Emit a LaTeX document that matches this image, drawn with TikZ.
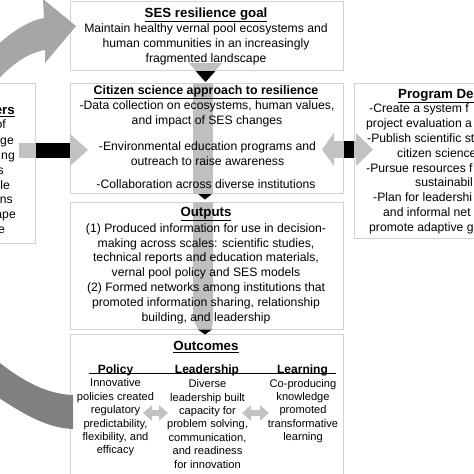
\documentclass[tikz,border=0pt]{standalone}
\usepackage{fontspec}
\setmainfont{Liberation Sans}
\usetikzlibrary{positioning}
\usetikzlibrary{arrows.meta}
\usetikzlibrary{calc}
\definecolor{pBorder}{HTML}{D2D2D2}
\definecolor{pBand}{HTML}{BFBFBF}
\definecolor{pArc}{HTML}{A6A6A6}
\definecolor{pTail}{HTML}{818181}
\definecolor{pHead}{HTML}{C2C2C2}

\tikzset{
  boxfr/.style={draw=pBorder, fill=white, line width=1pt, inner sep=0pt, anchor=north west},
  bodytxt/.style={font=\fontsize{12.2}{14.8}\selectfont, align=center, inner sep=0pt},
  titletxt/.style={font=\fontsize{13.3}{15}\selectfont\bfseries, inner sep=0pt, text height=9.5pt, text depth=3pt},
  coltxt/.style={font=\fontsize{11.1}{13.4}\selectfont, align=center, inner sep=0pt},
  colhead/.style={font=\fontsize{12}{14}\selectfont\bfseries, inner sep=0pt, text height=8.6pt, text depth=2.5pt},
  fragtxt/.style={font=\fontsize{12.2}{14.8}\selectfont, inner sep=0pt, text height=9pt, text depth=2.6pt},
  dblarrow/.style={draw=pHead, line width=6pt, {Triangle[length=9pt,width=15pt]}-{Triangle[length=9pt,width=15pt]}},
}

\begin{document}
\begin{tikzpicture}[x=1pt, y=-1pt]
  \useasboundingbox (0,0) rectangle (474,474);
  \clip (0,0) rectangle (474,474);

  \node[boxfr, minimum width=273pt, minimum height=69pt]  (goal) at (70,1) {};
  \node[boxfr, minimum width=273pt, minimum height=110pt] (cit)  at (70,83) {};
  \node[boxfr, minimum width=273pt, minimum height=127pt] (outp) at (70,202) {};
  \node[boxfr, minimum width=273pt, minimum height=150pt] (outc) at (70,334) {};
  \node[boxfr, minimum width=45pt,  minimum height=160pt] (drv)  at (-10,83) {};
  \node[boxfr, minimum width=130pt, minimum height=155pt] (prog) at (354,83) {};

  \coordinate (band) at (203.5,0);
  \fill[pBand] ($(band |- goal.south)+(-14.5,-8)$) -- ($(band |- goal.south)+(18.5,-8)$) -- ($(band |- cit.north)+(2,-1)$) -- cycle;
  \fill[black] ($(band |- goal.south)+(-7.9,0)$) -- ($(band |- goal.south)+(11.9,0)$) -- ($(band |- cit.north)+(2,-1)$) -- cycle;
  \fill[pBand] ($(band |- cit.north)+(-10.5,0)$) rectangle ($(band |- cit.south)+(9.5,0)$);
  \fill[black] ($(band |- cit.south)+(-5.5,0)$) -- ($(band |- cit.south)+(8.5,0)$) -- ($(band |- outp.north)+(1.5,-2.5)$) -- cycle;
  \fill[pBand] ($(band |- outp.north)+(-10.5,0)$) -- ($(band |- outp.north)+(9.5,0)$) -- ($(band |- outp.south)+(9.5,-11)$) -- ($(band |- outp.south)+(8.5,-1)$) -- ($(band |- outp.south)+(-5.5,-1)$) -- ($(band |- outp.south)+(-10.5,-11)$) -- cycle;
  \fill[black] ($(band |- outp.south)+(-5.5,-0.5)$) -- ($(band |- outp.south)+(8.5,-0.5)$) -- ($(band |- outc.north)+(1.5,0.5)$) -- cycle;

  \node[titletxt] (goal-t) at (206,14) {\underline{SES resilience goal}};
  \node[bodytxt]  (goal-b) at (206,44.5) {Maintain healthy vernal pool ecosystems and\\human communities in an increasingly\\fragmented landscape};

  \node[titletxt, font=\fontsize{12.4}{15}\selectfont\bfseries] (cit-t) at (206,91) {\underline{Citizen science approach to resilience}};
  \node[bodytxt] (cit-1) at (207,114) {-Data collection on ecosystems, human values,\\and impact of SES changes};
  \node[bodytxt] (cit-2) at (207.5,153.5) {-Environmental education programs and\\outreach to raise awareness};
  \node[bodytxt] (cit-3) at (206,184) {-Collaboration across diverse institutions};

  \node[titletxt] (outp-t) at (206,213) {\underline{Outputs}};
  \node[bodytxt]  (outp-b) at (206,273.5) {(1) Produced information for use in decision-\\making across scales: scientific studies,\\technical reports and education materials,\\vernal pool policy and SES models\\(2) Formed networks among institutions that\\promoted information sharing, relationship\\building, and leadership};

  \node[titletxt] (outc-t) at (206,347) {\underline{Outcomes}};
  \node[colhead] (pol-h)   at (115.5,370) {Policy};
  \node[colhead] (lead-h)  at (207,370) {Leadership};
  \node[colhead] (learn-h) at (302.5,370) {Learning};
  \draw[line width=1pt] ($(pol-h.base)+(-26.5,0.6)$) -- ($(learn-h.base)+(33.5,0.6)$);
  \node[coltxt] (pol)   at (115.5,417.5) {Innovative\\policies created\\regulatory\\predictability,\\flexibility, and\\efficacy};
  \node[coltxt] (lead)  at (207.5,424) {Diverse\\leadership built\\capacity for\\problem solving,\\communication,\\and readiness\\for innovation};
  \node[coltxt] (learn) at (303,411) {Co-producing\\knowledge\\promoted\\transformative\\learning};

  \coordinate (pl-a) at (143,413);
  \coordinate (pl-b) at (168,413);
  \coordinate (ll-a) at (242,413);
  \coordinate (ll-b) at (269,413);
  \draw[dblarrow] (pl-a) -- (pl-b);
  \draw[dblarrow] (ll-a) -- (ll-b);

  \node[fragtxt, anchor=east, font=\fontsize{13.3}{15}\selectfont\bfseries] (drv-t) at (15,111.5) {\underline{ers}};
  \node[fragtxt, anchor=east] (drv-1) at (6,125) {of};
  \node[fragtxt, anchor=east] (drv-2) at (14,141.7) {ge};
  \node[fragtxt, anchor=east] (drv-3) at (15,156.7) {ng};
  \node[fragtxt, anchor=east] (drv-4) at (4,171) {s};
  \node[fragtxt, anchor=east] (drv-5) at (10,186.5) {le};
  \node[fragtxt, anchor=east] (drv-6) at (13,200.7) {ns};
  \node[fragtxt, anchor=east] (drv-7) at (16,215.7) {ape};
  \node[fragtxt, anchor=east] (drv-8) at (5,230.5) {e};

  \node[fragtxt, anchor=west, font=\fontsize{13.3}{15}\selectfont\bfseries] (prog-t) at (398,95) {\underline{Program De}};
  \node[fragtxt, anchor=west] (prog-1) at (369,109.5) {-Create a system f};
  \node[fragtxt, anchor=west] (prog-2) at (366,124.5) {project evaluation a};
  \node[fragtxt, anchor=west] (prog-3) at (367,139.5) {-Publish scientific st};
  \node[fragtxt, anchor=west] (prog-4) at (397,154) {citizen science};
  \node[fragtxt, anchor=west] (prog-5) at (366,169) {-Pursue resources f};
  \node[fragtxt, anchor=west] (prog-6) at (415,183.5) {sustainabil};
  \node[fragtxt, anchor=west] (prog-7) at (373,198.5) {-Plan for leadershi};
  \node[fragtxt, anchor=west] (prog-8) at (383,213.5) {and informal net};
  \node[fragtxt, anchor=west] (prog-9) at (369,228.5) {promote adaptive g};

  \coordinate (lArr) at (0,150);
  \fill[pHead] ($(drv.east |- lArr)+(-17,-7.5)$) rectangle ($(drv.east |- lArr)+(0,7.5)$);
  \fill[black] ($(drv.east |- lArr)+(0,-7.5)$) rectangle ($(cit.west |- lArr)+(0,7.5)$);
  \fill[pHead] ($(cit.west |- lArr)+(0,-16)$) -- ($(cit.west |- lArr)+(18,0)$) -- ($(cit.west |- lArr)+(0,16)$) -- cycle;

  \coordinate (rArr) at (0,149.5);
  \fill[pHead] ($(cit.east |- rArr)+(-10,-8.5)$) rectangle ($(cit.east |- rArr)+(0,8.5)$);
  \fill[black] ($(cit.east |- rArr)+(0,-8.5)$) rectangle ($(prog.west |- rArr)+(0,8.5)$);
  \fill[pHead] ($(prog.west |- rArr)+(0,-8.5)$) rectangle ($(prog.west |- rArr)+(2,8.5)$);
  \fill[pHead] ($(cit.east |- rArr)+(-10,-16.5)$) -- ($(cit.east |- rArr)+(-22,0)$) -- ($(cit.east |- rArr)+(-10,16.5)$) -- cycle;
  \fill[pHead] ($(prog.west |- rArr)+(2,-16.5)$) -- ($(prog.west |- rArr)+(19,0)$) -- ($(prog.west |- rArr)+(2,16.5)$) -- cycle;

  \fill[pArc] (-10,52) .. controls (10,32) and (28,21) .. (44,18) -- (43,-1) -- ($(goal.west |- 0,26)+(6,0)$) -- (45,63) -- (45,50) .. controls (28,53) and (12,63) .. (-10,88) -- cycle;
  \fill[pTail] ($(outc.west |- 0,395)+(3,0)$) .. controls (45,394) and (20,380) .. (-10,355) -- (-10,392) .. controls (20,412) and (45,428) .. ($(outc.west |- 0,429)+(3,0)$) -- cycle;

\end{tikzpicture}
\end{document}
